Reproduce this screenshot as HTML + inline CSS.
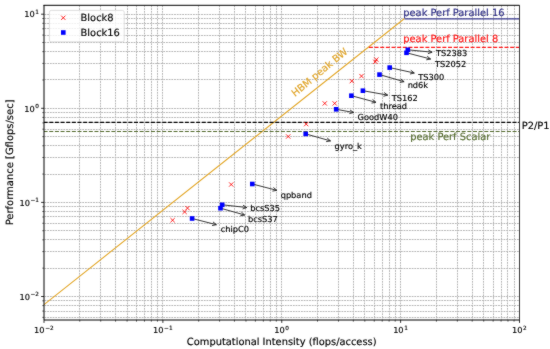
<!DOCTYPE html>
<html><head><meta charset="utf-8"><title>Roofline</title>
<style>html,body{margin:0;padding:0;background:#fff;overflow:hidden}svg{display:block}</style>
</head><body>
<svg width="550" height="349" viewBox="0 0 550 349" text-rendering="geometricPrecision">
<defs><filter id="soft" x="0" y="0" width="550" height="349" filterUnits="userSpaceOnUse" color-interpolation-filters="sRGB"><feConvolveMatrix order="3" kernelMatrix="1 2 1 2 28 2 1 2 1" divisor="40" edgeMode="duplicate"/></filter></defs>
<rect width="550" height="349" fill="#fff"/>
<g filter="url(#soft)">
<rect width="550" height="349" fill="#fff"/>
<path d="M79.5 5.5V319.5M100.5 5.5V319.5M115.5 5.5V319.5M127.5 5.5V319.5M136.5 5.5V319.5M144.5 5.5V319.5M151.5 5.5V319.5M157.5 5.5V319.5M162.5 5.5V319.5M198.5 5.5V319.5M219.5 5.5V319.5M234.5 5.5V319.5M245.5 5.5V319.5M255.5 5.5V319.5M263.5 5.5V319.5M270.5 5.5V319.5M276.5 5.5V319.5M281.5 5.5V319.5M317.5 5.5V319.5M338.5 5.5V319.5M353.5 5.5V319.5M364.5 5.5V319.5M374.5 5.5V319.5M382.5 5.5V319.5M389.5 5.5V319.5M395.5 5.5V319.5M400.5 5.5V319.5M436.5 5.5V319.5M457.5 5.5V319.5M472.5 5.5V319.5M483.5 5.5V319.5M493.5 5.5V319.5M501.5 5.5V319.5M507.5 5.5V319.5M514.5 5.5V319.5M44.5 317.5H519M44.5 311.5H519M44.5 305.5H519M44.5 300.5H519M44.5 296.5H519M44.5 268.5H519M44.5 251.5H519M44.5 239.5H519M44.5 230.5H519M44.5 223.5H519M44.5 216.5H519M44.5 211.5H519M44.5 206.5H519M44.5 202.5H519M44.5 174.5H519M44.5 157.5H519M44.5 145.5H519M44.5 136.5H519M44.5 129.5H519M44.5 122.5H519M44.5 117.5H519M44.5 112.5H519M44.5 108.5H519M44.5 79.5H519M44.5 63.5H519M44.5 51.5H519M44.5 42.5H519M44.5 35.5H519M44.5 28.5H519M44.5 23.5H519M44.5 18.5H519M44.5 14.5H519" stroke="#b6b6b6" stroke-width="1.0" stroke-dasharray="1.8,0.9" fill="none"/>
<path d="M44 304.6L404.5 18.5" stroke="#e3a82c" stroke-width="1.1" fill="none"/>
<path d="M404.5 18.8H519.5" stroke="#3a3a90" stroke-width="1.3" fill="none"/>
<path d="M368.9 47.45H519.5" stroke="#ff1a1a" stroke-width="1.2" stroke-dasharray="4,1.65" fill="none"/>
<path d="M44 122.25H519.5" stroke="#000" stroke-width="1.25" stroke-dasharray="4,1.65" stroke-dashoffset="0.4" fill="none"/>
<path d="M44 131.45H519.5" stroke="#556b2f" stroke-width="1.15" stroke-dasharray="4,1.65" stroke-dashoffset="0.4" fill="none"/>
<text x="403.3" y="15.5" font-size="9.87" fill="#2c2c84" stroke="#2c2c84" stroke-width="0.15" font-family="'DejaVu Sans', 'Liberation Sans', sans-serif">peak Perf Parallel 16</text>
<text x="403.3" y="41.8" font-size="9.87" fill="#ff1010" stroke="#ff1010" stroke-width="0.15" font-family="'DejaVu Sans', 'Liberation Sans', sans-serif">peak Perf Parallel 8</text>
<text x="410.2" y="140.3" font-size="9.87" fill="#556b2f" stroke="#556b2f" stroke-width="0.15" font-family="'DejaVu Sans', 'Liberation Sans', sans-serif">peak Perf Scalar</text>
<text x="521.8" y="128.9" font-size="9.87" fill="#000" stroke="#000" stroke-width="0.15" font-family="'DejaVu Sans', 'Liberation Sans', sans-serif">P2/P1</text>
<text x="0" y="3.6" text-anchor="middle" font-size="9.87" fill="#e0a52a" stroke="#e0a52a" stroke-width="0.15" font-family="'DejaVu Sans', 'Liberation Sans', sans-serif" transform="translate(319.3 72.1) rotate(-39.64)">HBM peak BW</text>
<path d="M193.65 218.9L216.4 224.7M212.05 225.55L216.4 224.7L212.99 221.87M222.04 208.63L244.7 215M240.34 215.75L244.7 215L241.36 212.09M223.79 204.97L246.8 207.5M242.62 208.95L246.8 207.5L243.03 205.17M253.85 184.4L276.8 190.3M272.45 191.14L276.8 190.3L273.4 187.46M307.24 134.33L330.5 140.9M326.13 141.64L330.5 140.9L327.17 137.98M337.77 109.59L353.6 112.5M349.32 113.65L353.6 112.5L350.01 109.91M352.94 96.12L375.9 102.3M371.54 103.09L375.9 102.3L372.53 99.42M364.48 90.98L387.7 95.1M383.43 96.27L387.7 95.1L384.09 92.53M381.04 75.04L404.1 81.7M399.73 82.42L404.1 81.7L400.78 78.77M391.26 67.94L414.3 73M409.99 74L414.3 73L410.8 70.29M408.05 53.2L430.6 59M426.25 59.84L430.6 59L427.2 56.16M409.39 49.96L432.1 52.2M427.93 53.7L432.1 52.2L428.31 49.92" stroke="#222" stroke-width="0.9" fill="none" stroke-linejoin="miter"/>
<text x="220.65" y="232.1" font-size="8.25" fill="#000" stroke="#000" stroke-width="0.15" font-family="'DejaVu Sans', 'Liberation Sans', sans-serif">chipC0</text>
<text x="248.05" y="221.9" font-size="8.25" fill="#000" stroke="#000" stroke-width="0.15" font-family="'DejaVu Sans', 'Liberation Sans', sans-serif">bcsS37</text>
<text x="250.15" y="211.2" font-size="8.25" fill="#000" stroke="#000" stroke-width="0.15" font-family="'DejaVu Sans', 'Liberation Sans', sans-serif">bcsS35</text>
<text x="280.65" y="197.5" font-size="8.25" fill="#000" stroke="#000" stroke-width="0.15" font-family="'DejaVu Sans', 'Liberation Sans', sans-serif">qpband</text>
<text x="334.55" y="148.5" font-size="8.25" fill="#000" stroke="#000" stroke-width="0.15" font-family="'DejaVu Sans', 'Liberation Sans', sans-serif">gyro_k</text>
<text x="357.55" y="119.7" font-size="8.25" fill="#000" stroke="#000" stroke-width="0.15" font-family="'DejaVu Sans', 'Liberation Sans', sans-serif">GoodW40</text>
<text x="380.05" y="109" font-size="8.25" fill="#000" stroke="#000" stroke-width="0.15" font-family="'DejaVu Sans', 'Liberation Sans', sans-serif">thread</text>
<text x="391.8" y="101" font-size="8.25" fill="#000" stroke="#000" stroke-width="0.15" font-family="'DejaVu Sans', 'Liberation Sans', sans-serif">TS162</text>
<text x="407.65" y="88.1" font-size="8.25" fill="#000" stroke="#000" stroke-width="0.15" font-family="'DejaVu Sans', 'Liberation Sans', sans-serif">nd6k</text>
<text x="418.2" y="79.7" font-size="8.25" fill="#000" stroke="#000" stroke-width="0.15" font-family="'DejaVu Sans', 'Liberation Sans', sans-serif">TS300</text>
<text x="435" y="67.1" font-size="8.25" fill="#000" stroke="#000" stroke-width="0.15" font-family="'DejaVu Sans', 'Liberation Sans', sans-serif">TS2052</text>
<text x="435.9" y="56.4" font-size="8.25" fill="#000" stroke="#000" stroke-width="0.15" font-family="'DejaVu Sans', 'Liberation Sans', sans-serif">TS2383</text>
<path d="M170.45 218.05L174.75 222.35M170.45 222.35L174.75 218.05M182.45 209.75L186.75 214.05M182.45 214.05L186.75 209.75M185.35 205.95L189.65 210.25M185.35 210.25L189.65 205.95M229.05 182.35L233.35 186.65M229.05 186.65L233.35 182.35M286.05 134.35L290.35 138.65M286.05 138.65L290.35 134.35M304.05 121.95L308.35 126.25M304.05 126.25L308.35 121.95M322.65 101.25L326.95 105.55M322.65 105.55L326.95 101.25M332.55 101.25L336.85 105.55M332.55 105.55L336.85 101.25M349.65 78.95L353.95 83.25M349.65 83.25L353.95 78.95M359.35 73.95L363.65 78.25M359.35 78.25L363.65 73.95M373.15 59.65L377.45 63.95M373.15 63.95L377.45 59.65M374.15 57.45L378.45 61.75M374.15 61.75L378.45 57.45" stroke="#ff0000" stroke-width="0.85" fill="none"/>
<g fill="#0000ff"><rect x="189.8" y="216.2" width="4.6" height="4.6"/><rect x="218.2" y="205.9" width="4.6" height="4.6"/><rect x="219.9" y="202.5" width="4.6" height="4.6"/><rect x="250" y="181.7" width="4.6" height="4.6"/><rect x="303.4" y="131.6" width="4.6" height="4.6"/><rect x="333.9" y="107" width="4.6" height="4.6"/><rect x="349.1" y="93.4" width="4.6" height="4.6"/><rect x="360.6" y="88.4" width="4.6" height="4.6"/><rect x="377.2" y="72.3" width="4.6" height="4.6"/><rect x="387.4" y="65.3" width="4.6" height="4.6"/><rect x="404.2" y="50.5" width="4.6" height="4.6"/><rect x="405.5" y="47.5" width="4.6" height="4.6"/></g>
<path d="M44 320V322.9M162.88 320V322.9M281.75 320V322.9M400.62 320V322.9M519.5 320V322.9M44 296.5H41.1M44 202.4H41.1M44 108.3H41.1M44 14.2H41.1" stroke="#000" stroke-width="0.8" fill="none"/>
<path d="M79.78 320V321.7M100.72 320V321.7M115.57 320V321.7M127.09 320V321.7M136.5 320V321.7M144.46 320V321.7M151.35 320V321.7M157.44 320V321.7M198.66 320V321.7M219.59 320V321.7M234.44 320V321.7M245.97 320V321.7M255.38 320V321.7M263.34 320V321.7M270.23 320V321.7M276.31 320V321.7M317.53 320V321.7M338.47 320V321.7M353.32 320V321.7M364.84 320V321.7M374.25 320V321.7M382.21 320V321.7M389.1 320V321.7M395.19 320V321.7M436.41 320V321.7M457.34 320V321.7M472.19 320V321.7M483.72 320V321.7M493.13 320V321.7M501.09 320V321.7M507.98 320V321.7M514.06 320V321.7M44 317.38H42.3M44 311.08H42.3M44 305.62H42.3M44 300.81H42.3M44 268.17H42.3M44 251.6H42.3M44 239.85H42.3M44 230.73H42.3M44 223.28H42.3M44 216.98H42.3M44 211.52H42.3M44 206.71H42.3M44 174.07H42.3M44 157.5H42.3M44 145.75H42.3M44 136.63H42.3M44 129.18H42.3M44 122.88H42.3M44 117.42H42.3M44 112.61H42.3M44 79.97H42.3M44 63.4H42.3M44 51.65H42.3M44 42.53H42.3M44 35.08H42.3M44 28.78H42.3M44 23.32H42.3M44 18.51H42.3" stroke="#000" stroke-width="0.6" fill="none"/>
<path d="M44 5V320H519.5" stroke="#000" stroke-width="1.0" fill="none"/>
<path d="M43.5 5.3H519.5" stroke="#000" stroke-width="1.0" fill="none"/>
<path d="M519.5 5V320" stroke="#3a3a3a" stroke-width="1.0" fill="none"/>
<text x="43.9" y="333.3" font-size="8.22" fill="#000" stroke="#000" stroke-width="0.15" font-family="'DejaVu Sans', 'Liberation Sans', sans-serif" text-anchor="middle">10<tspan dx="0.6" dy="-3.35" font-size="5.75">−2</tspan></text>
<text x="162.78" y="333.3" font-size="8.22" fill="#000" stroke="#000" stroke-width="0.15" font-family="'DejaVu Sans', 'Liberation Sans', sans-serif" text-anchor="middle">10<tspan dx="0.6" dy="-3.35" font-size="5.75">−1</tspan></text>
<text x="281.65" y="333.3" font-size="8.22" fill="#000" stroke="#000" stroke-width="0.15" font-family="'DejaVu Sans', 'Liberation Sans', sans-serif" text-anchor="middle">10<tspan dx="0.6" dy="-3.35" font-size="5.75">0</tspan></text>
<text x="400.52" y="333.3" font-size="8.22" fill="#000" stroke="#000" stroke-width="0.15" font-family="'DejaVu Sans', 'Liberation Sans', sans-serif" text-anchor="middle">10<tspan dx="0.6" dy="-3.35" font-size="5.75">1</tspan></text>
<text x="519.4" y="333.3" font-size="8.22" fill="#000" stroke="#000" stroke-width="0.15" font-family="'DejaVu Sans', 'Liberation Sans', sans-serif" text-anchor="middle">10<tspan dx="0.6" dy="-3.35" font-size="5.75">2</tspan></text>
<text x="39" y="299.7" font-size="8.22" fill="#000" stroke="#000" stroke-width="0.15" font-family="'DejaVu Sans', 'Liberation Sans', sans-serif" text-anchor="end">10<tspan dx="0.6" dy="-3.35" font-size="5.75">−2</tspan></text>
<text x="39" y="205.6" font-size="8.22" fill="#000" stroke="#000" stroke-width="0.15" font-family="'DejaVu Sans', 'Liberation Sans', sans-serif" text-anchor="end">10<tspan dx="0.6" dy="-3.35" font-size="5.75">−1</tspan></text>
<text x="39" y="111.5" font-size="8.22" fill="#000" stroke="#000" stroke-width="0.15" font-family="'DejaVu Sans', 'Liberation Sans', sans-serif" text-anchor="end">10<tspan dx="0.6" dy="-3.35" font-size="5.75">0</tspan></text>
<text x="39" y="17.4" font-size="8.22" fill="#000" stroke="#000" stroke-width="0.15" font-family="'DejaVu Sans', 'Liberation Sans', sans-serif" text-anchor="end">10<tspan dx="0.6" dy="-3.35" font-size="5.75">1</tspan></text>
<text x="281.7" y="344.5" font-size="9.87" text-anchor="middle" fill="#000" stroke="#000" stroke-width="0.15" font-family="'DejaVu Sans', 'Liberation Sans', sans-serif">Computational Intensity (flops/access)</text>
<text x="0" y="0" font-size="9.97" text-anchor="middle" fill="#000" stroke="#000" stroke-width="0.15" font-family="'DejaVu Sans', 'Liberation Sans', sans-serif" transform="translate(12.5 162.4) rotate(-90)">Performance [Gflops/sec]</text>
<rect x="49.4" y="10.4" width="74.8" height="31.4" rx="1.8" fill="#fff" fill-opacity="0.8" stroke="#d6d6d6" stroke-width="0.8"/>
<path d="M61.15 15.65L65.45 19.95M61.15 19.95L65.45 15.65" stroke="#ff0000" stroke-width="0.85" fill="none"/>
<rect x="61" y="30.2" width="4.6" height="4.6" fill="#0000ff"/>
<text x="80.6" y="21.4" font-size="9.87" fill="#000" stroke="#000" stroke-width="0.15" font-family="'DejaVu Sans', 'Liberation Sans', sans-serif">Block8</text>
<text x="80.6" y="35.8" font-size="9.87" fill="#000" stroke="#000" stroke-width="0.15" font-family="'DejaVu Sans', 'Liberation Sans', sans-serif">Block16</text>
</g>
</svg>
</body></html>
